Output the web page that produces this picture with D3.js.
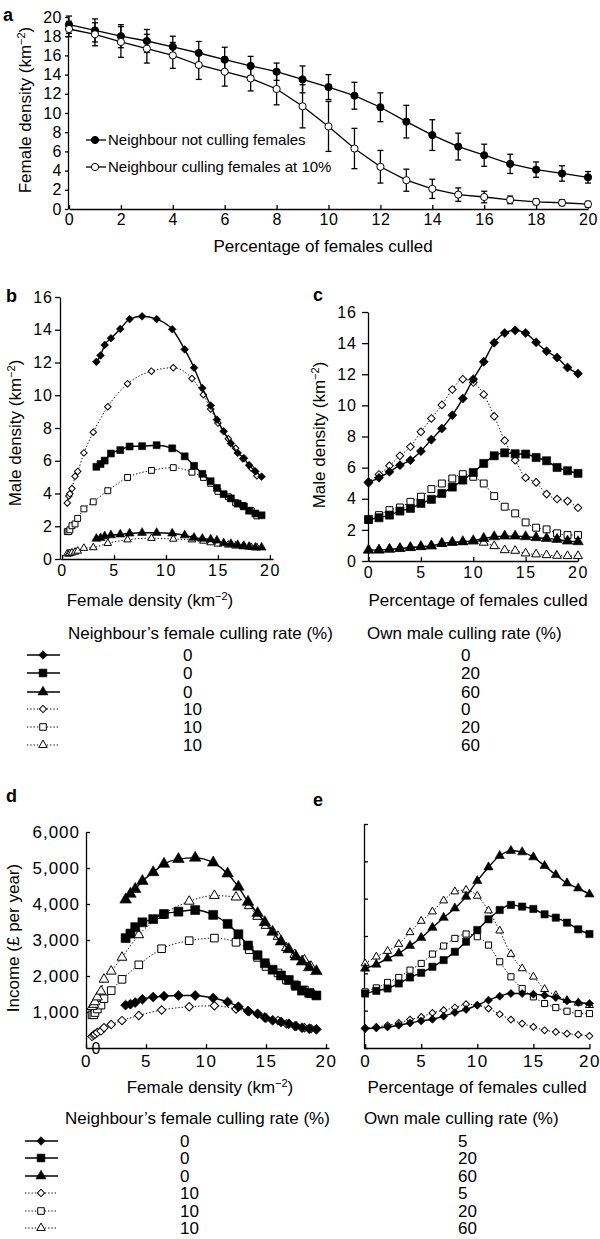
<!DOCTYPE html>
<html>
<head>
<meta charset="utf-8">
<script src="https://cdn.jsdelivr.net/npm/d3@7"></script>
<style>
  body { margin: 0; background: #fff; }
  svg { display: block; font-family: "Liberation Sans", Arial, Helvetica, sans-serif; }
</style>
</head>
<body>
<script>
// percentage of females culled (x of panels a, c, e)
var culled = [0,1,2,3,4,5,6,7,8,9,10,11,12,13,14,15,16,17,18,19,20];

// panel a: female density (km-2) with error bars
var femaleNoCull     = [19.2,18.6,18.0,17.5,16.9,16.25,15.55,14.9,14.3,13.5,12.7,11.8,10.6,9.1,7.7,6.5,5.6,4.7,4.1,3.7,3.3];
var femaleNoCullErr  = [0.9,1.2,1.2,1.2,1.1,1.2,1.3,1.0,0.9,1.4,1.3,1.4,1.5,1.7,1.6,1.4,1.15,1.0,0.8,0.8,0.6];
var femaleCull10     = [18.75,18.2,17.4,16.7,16.0,15.0,14.3,13.6,12.5,10.7,8.6,6.3,4.4,3.0,2.1,1.5,1.25,0.95,0.75,0.65,0.5];
var femaleCull10Err  = [0.8,1.2,1.6,1.5,1.35,1.5,1.5,1.3,1.65,2.25,2.6,2.1,1.7,1.15,1.0,0.7,0.6,0.4,0.3,0.3,0.3];

// panel c (and b): male density (km-2)
var maleN0M0   = [5.03,5.35,5.73,6.16,6.48,7.06,7.8,8.51,9.37,10.44,11.68,12.8,14.03,14.65,14.82,14.65,14.05,13.48,13.07,12.43,12.04];
var maleN0M20  = [2.67,2.78,2.95,3.21,3.38,3.7,3.96,4.34,4.75,5.2,5.69,6.27,6.76,6.95,6.89,6.87,6.65,6.44,6.01,5.8,5.63];
var maleN0M60  = [0.7,0.7,0.75,0.8,0.86,0.92,0.96,1.13,1.2,1.24,1.3,1.45,1.56,1.6,1.6,1.56,1.5,1.45,1.39,1.28,1.24];
var maleN10M0  = [5.09,5.56,6.12,6.76,7.34,8.3,9.16,10.03,11.02,11.68,11.47,10.7,9.3,7.74,6.48,5.35,5.05,4.3,3.98,3.85,3.42];
var maleN10M20 = [2.63,2.95,3.27,3.44,3.8,4.13,4.62,4.98,5.3,5.58,5.41,4.98,4.17,3.49,3.06,2.48,2.14,2.03,1.78,1.67,1.67];
var maleN10M60 = [0.7,0.72,0.76,0.8,0.86,0.92,1.0,1.1,1.18,1.22,1.27,1.18,0.96,0.7,0.66,0.49,0.43,0.38,0.34,0.32,0.32];

// panel e (and d): income (GBP per year)
var incN0M5   = [519,537,564,609,671,725,770,850,949,1030,1146,1280,1388,1459,1459,1441,1414,1352,1262,1218,1191];
var incN0M20  = [1459,1531,1594,1728,1889,2014,2175,2355,2578,2847,3160,3447,3697,3832,3787,3724,3581,3491,3357,3178,3053];
var incN0M60  = [2131,2238,2399,2534,2740,2954,3223,3491,3742,4055,4476,4843,5148,5282,5246,5112,4879,4637,4414,4279,4118];
var incN10M5  = [537,564,609,671,761,833,940,1012,1083,1173,1146,1056,904,761,654,564,474,430,385,358,322];
var incN10M20 = [1504,1611,1755,1889,2086,2265,2516,2731,2936,3053,2981,2757,2310,1907,1594,1370,1191,1083,985,922,922];
var incN10M60 = [2265,2444,2596,2784,3098,3402,3653,3948,4190,4234,4073,3680,3142,2516,2131,1907,1576,1414,1280,1209,1146];

// tick labels
var ticksA = [0,2,4,6,8,10,12,14,16,18,20];
var ticksMale = [0,2,4,6,8,10,12,14,16];
var ticks5 = [0,5,10,15,20];
var ticksIncome = [1000,2000,3000,4000,5000,6000];
var ticksIncomeE = [0,1000,2000,3000,4000,5000,6000];

// legends
var neighbourRate = ["0","0","0","10","10","10"];
var ownMaleRate1 = ["0","20","60","0","20","60"];
var ownMaleRate2 = ["5","20","60","5","20","60"];
var shapes = ["diamond","square","triangle","diamond","square","triangle"];
var filled = [true,true,true,false,false,false];

var maleSeries = [maleN0M0, maleN0M20, maleN0M60, maleN10M0, maleN10M20, maleN10M60];
var incomeSeries = [incN0M5, incN0M20, incN0M60, incN10M5, incN10M20, incN10M60];
// female density each series sits on (neighbour 0 or 10 %)
var femaleOf = [femaleNoCull, femaleNoCull, femaleNoCull, femaleCull10, femaleCull10, femaleCull10];

var svg = d3.select("body").append("svg")
    .attr("width", 600)
    .attr("height", 1239);

function styleAxis(g, fs, ls) {
    g.attr("font-family", null).attr("font-size", null);
    g.select(".domain").attr("stroke", "#000").attr("stroke-width", 1.3);
    g.selectAll(".tick line").attr("stroke", "#000").attr("stroke-width", 1.3);
    g.selectAll(".tick text").attr("fill", "#000").attr("font-size", fs)
        .attr("letter-spacing", ls || null);
}

function marker(sel, shape, isFilled, size) {
    var type = shape == "triangle" ? d3.symbolTriangle : d3.symbolSquare;
    var s = size;
    if (shape == "diamond") s = size * 0.62;
    if (shape == "triangle") s = size * 0.72;
    if (!isFilled) s = s * 0.72;
    sel.attr("d", d3.symbol().type(type).size(s)())
        .attr("fill", isFilled ? "#000" : "#fff")
        .attr("stroke", "#000")
        .attr("stroke-width", isFilled ? 0.6 : 1);
    return sel;
}

function placeMarker(x, y, shape) {
    return "translate(" + x + "," + y + ")" + (shape == "diamond" ? " rotate(45)" : "");
}

function label(x, y, txt, opt) {
    opt = opt || {};
    return svg.append("text")
        .attr("x", x).attr("y", y)
        .attr("font-size", opt.size || 17)
        .attr("font-weight", opt.bold ? "bold" : null)
        .attr("text-anchor", opt.anchor || "start")
        .text(txt);
}

function unitLabel(x, y, prefix, rotate) {
    var t = svg.append("text")
        .attr("font-size", 17)
        .attr("text-anchor", "middle")
        .attr("transform", "translate(" + x + "," + y + ")" + (rotate ? " rotate(-90)" : ""));
    t.append("tspan").text(prefix + " (km");
    t.append("tspan").attr("dy", -6).attr("font-size", 11).text("\u22122");
    t.append("tspan").attr("dy", 6).text(")");
}

// ---------- panel a ----------
var xA = d3.scaleLinear().domain([0, 20]).range([69, 588]);
var yA = d3.scaleLinear().domain([0, 20]).range([209, 17]);

svg.append("g").attr("transform", "translate(0,209)")
    .call(d3.axisBottom(xA).tickValues(ticksA).tickSizeInner(-4).tickSizeOuter(0).tickPadding(5))
    .call(styleAxis, 16, 0.5);
svg.append("g").attr("transform", "translate(68,0)")
    .call(d3.axisLeft(yA).tickValues(ticksA).tickSizeInner(3).tickSizeOuter(0).tickPadding(3))
    .call(styleAxis, 16, 0.5);

var aSeries = [
    {vals: femaleNoCull, err: femaleNoCullErr, fill: "#000"},
    {vals: femaleCull10, err: femaleCull10Err, fill: "#fff"}
];
aSeries.forEach(function (s) {
    var g = svg.append("g");
    g.selectAll("line.err").data(culled).enter().append("line")
        .attr("x1", function (d) { return xA(d); })
        .attr("x2", function (d) { return xA(d); })
        .attr("y1", function (d, i) { return yA(s.vals[i] + s.err[i]); })
        .attr("y2", function (d, i) { return yA(Math.max(0, s.vals[i] - s.err[i])); })
        .attr("stroke", "#000").attr("stroke-width", 1.3);
    [1, -1].forEach(function (sign) {
        g.selectAll(null).data(culled).enter().append("line")
            .attr("x1", function (d) { return xA(d) - 3; })
            .attr("x2", function (d) { return xA(d) + 3; })
            .attr("y1", function (d, i) { return yA(Math.max(0, s.vals[i] + sign * s.err[i])); })
            .attr("y2", function (d, i) { return yA(Math.max(0, s.vals[i] + sign * s.err[i])); })
            .attr("stroke", "#000").attr("stroke-width", 1.3);
    });
    g.append("path")
        .datum(culled)
        .attr("fill", "none").attr("stroke", "#000").attr("stroke-width", 1.3)
        .attr("d", d3.line().x(function (d) { return xA(d); }).y(function (d, i) { return yA(s.vals[i]); }));
    g.selectAll("circle").data(culled).enter().append("circle")
        .attr("cx", function (d) { return xA(d); })
        .attr("cy", function (d, i) { return yA(s.vals[i]); })
        .attr("r", 3.6)
        .attr("fill", s.fill).attr("stroke", "#000").attr("stroke-width", 1);
});

// panel a legend
[["Neighbour not culling females", "#000", 140], ["Neighbour culling females at 10%", "#fff", 167]].forEach(function (l) {
    svg.append("line").attr("x1", 86).attr("x2", 106).attr("y1", l[2]).attr("y2", l[2])
        .attr("stroke", "#000").attr("stroke-width", 1.3);
    svg.append("circle").attr("cx", 95).attr("cy", l[2]).attr("r", 3.6)
        .attr("fill", l[1]).attr("stroke", "#000");
    label(108, l[2] + 5, l[0], {size: 15});
});

label(3, 21, "a", {bold: true, size: 18});
unitLabel(31, 110, "Female density", true);
label(323, 252, "Percentage of females culled", {anchor: "middle"});

// ---------- generic panel for b/c/d/e ----------
function drawSeries(xs, ys, xData, yData, k, msize) {
    var pts = xData[k].map(function (x, i) { return [x, yData[k][i]]; });
    pts = d3.sort(pts, function (p) { return p[0]; });
    svg.append("path")
        .datum(pts)
        .attr("fill", "none")
        .attr("stroke", "#000")
        .attr("stroke-width", filled[k] ? 1.4 : 1)
        .attr("stroke-dasharray", filled[k] ? null : "1.3,2")
        .attr("d", d3.line().curve(d3.curveMonotoneX)
            .x(function (p) { return xs(p[0]); })
            .y(function (p) { return ys(p[1]); }));
    svg.append("g").selectAll("path").data(pts).enter().append("path")
        .each(function () { marker(d3.select(this), shapes[k], filled[k], msize); })
        .attr("transform", function (p) { return placeMarker(xs(p[0]), ys(p[1]), shapes[k]); });
}

// draw open series first, filled on top
var order = [3, 4, 5, 0, 1, 2];

// ---------- panel b ----------
var xB = d3.scaleLinear().domain([-0.2, 20.3]).range([60, 273]);
var yB = d3.scaleLinear().domain([0, 16]).range([559, 297]);
svg.append("g").attr("transform", "translate(0,559)")
    .call(d3.axisBottom(xB).tickValues(ticks5).tickSizeInner(-4).tickSizeOuter(0).tickPadding(6))
    .call(styleAxis, 16, 1.5);
svg.append("g").attr("transform", "translate(60,0)")
    .call(d3.axisLeft(yB).tickValues(ticksMale).tickSizeInner(5).tickSizeOuter(0).tickPadding(2))
    .call(styleAxis, 16, 1);
order.forEach(function (k) { drawSeries(xB, yB, femaleOf, maleSeries, k, 48); });
label(6, 302, "b", {bold: true, size: 18});
unitLabel(21, 433, "Male density", true);
unitLabel(150, 606, "Female density", false);

// ---------- panel c ----------
var xC = d3.scaleLinear().domain([-0.05, 20]).range([368, 578]);
var yC = d3.scaleLinear().domain([0, 16]).range([561, 312]);
svg.append("g").attr("transform", "translate(0,561)")
    .call(d3.axisBottom(xC).tickValues(ticks5).tickSizeInner(-4).tickSizeOuter(0).tickPadding(6))
    .call(styleAxis, 16, 1.5);
svg.append("g").attr("transform", "translate(368,0)")
    .call(d3.axisLeft(yC).tickValues(ticksMale).tickSizeInner(6).tickSizeOuter(0).tickPadding(5))
    .call(styleAxis, 16, 1);
var culledRep = [culled, culled, culled, culled, culled, culled];
order.forEach(function (k) { drawSeries(xC, yC, culledRep, maleSeries, k, 66); });
label(313, 301, "c", {bold: true, size: 18});
unitLabel(325, 435, "Male density", true);
label(478, 606, "Percentage of females culled", {anchor: "middle"});

// ---------- legends ----------
function legend(top, rowY, symX0, valLeftX, valRightX, headLeftX, headRightX, ownVals) {
    label(headLeftX, top, "Neighbour\u2019s female culling rate (%)");
    label(headRightX, top, "Own male culling rate (%)");
    rowY.forEach(function (y, k) {
        svg.append("line")
            .attr("x1", symX0).attr("x2", symX0 + 33)
            .attr("y1", y).attr("y2", y)
            .attr("stroke", "#000")
            .attr("stroke-width", filled[k] ? 1.4 : 1)
            .attr("stroke-dasharray", filled[k] ? null : "1.3,2");
        svg.append("path")
            .call(marker, shapes[k], filled[k], 60)
            .attr("transform", placeMarker(symX0 + 16, y, shapes[k]));
        label(valLeftX, y + 6, neighbourRate[k], {size: 17});
        label(valRightX, y + 6, ownVals[k], {size: 17});
    });
}
legend(639, [655, 673, 692, 709, 727, 745], 27, 183, 461, 68, 367, ownMaleRate1);

// ---------- panel d ----------
var xD = d3.scaleLinear().domain([0, 20.25]).range([86, 329]);
var yD = d3.scaleLinear().domain([0, 6000]).range([1048, 832]);
svg.append("g").attr("transform", "translate(0,1048)")
    .call(d3.axisBottom(xD).tickValues(ticks5).tickSizeInner(-4).tickSizeOuter(0).tickPadding(7))
    .call(styleAxis, 17, 1.5);
svg.append("g").attr("transform", "translate(86,0)")
    .call(d3.axisLeft(yD).tickValues(ticksIncome).tickFormat(d3.format(",")).tickSizeInner(-4).tickSizeOuter(0).tickPadding(6))
    .call(styleAxis, 17, 1);
label(xD(0) + 10, yD(0) + 6, "0", {size: 16, anchor: "middle"});
order.forEach(function (k) { drawSeries(xD, yD, femaleOf, incomeSeries, k, 80); });
label(6, 802, "d", {bold: true, size: 18});
svg.append("text").attr("font-size", 17).attr("text-anchor", "middle")
    .attr("transform", "translate(19,938) rotate(-90)")
    .text("Income (\u00a3 per year)");
unitLabel(210, 1093, "Female density", false);

// ---------- panel e ----------
var xE = d3.scaleLinear().domain([-0.1, 20.05]).range([364, 590]);
var yE = d3.scaleLinear().domain([0, 6000]).range([1048, 824]);
svg.append("g").attr("transform", "translate(0,1048)")
    .call(d3.axisBottom(xE).tickValues(ticks5).tickSizeInner(-4).tickSizeOuter(0).tickPadding(7))
    .call(styleAxis, 17, 1.5);
svg.append("g").attr("transform", "translate(364,0)")
    .call(d3.axisLeft(yE).tickValues(ticksIncomeE).tickFormat("").tickSizeInner(-4).tickSizeOuter(0))
    .call(styleAxis, 17);
order.forEach(function (k) { drawSeries(xE, yE, culledRep, incomeSeries, k, 52); });
label(313, 806, "e", {bold: true, size: 18});
label(477, 1093, "Percentage of females culled", {anchor: "middle"});

legend(1124, [1141, 1158, 1176, 1193, 1211, 1228], 25, 180, 458, 65, 364, ownMaleRate2);
</script>
</body>
</html>
